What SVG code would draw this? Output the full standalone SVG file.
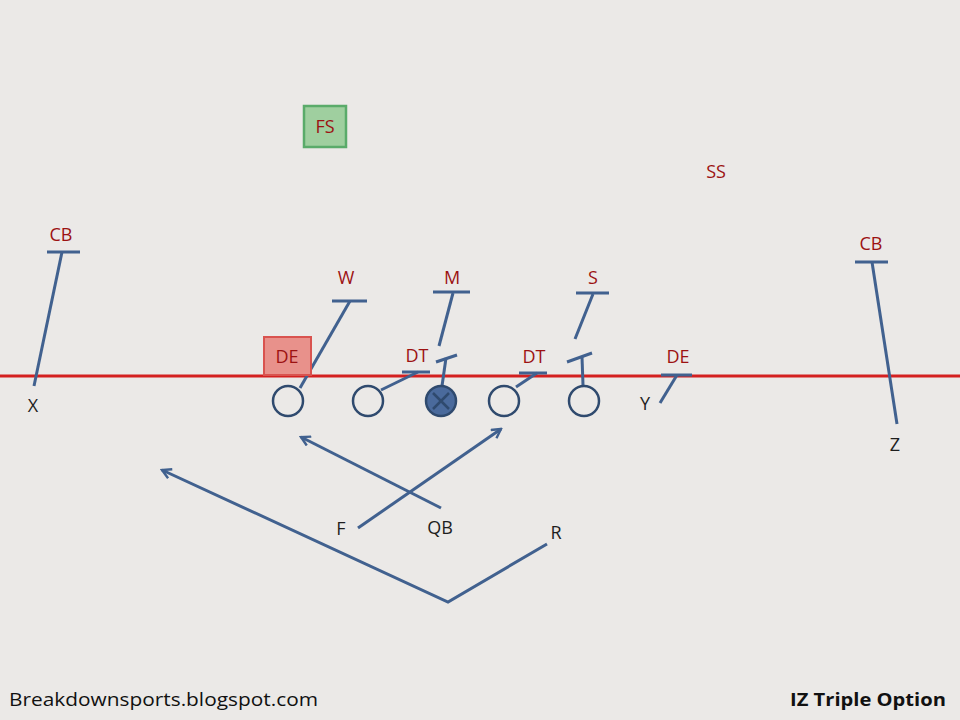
<svg xmlns="http://www.w3.org/2000/svg" width="960" height="720" viewBox="0 0 960 720">
<defs>
<marker id="arr" viewBox="0 0 12 12" refX="10" refY="6" markerWidth="12" markerHeight="12" markerUnits="userSpaceOnUse" orient="auto">
<path d="M1,1 L10,6 L1,11" fill="none" stroke="#41618f" stroke-width="2.4"/>
</marker>
</defs>
<style>
.bg{fill:#ebe9e7}
.los{stroke:#d42020;stroke-width:3}
.blk{stroke:#41618f;stroke-width:3;fill:none;stroke-linecap:butt}
.ol{fill:none;stroke:#2f4a6e;stroke-width:2.5}
.c{fill:#4a6a9c;stroke:#2f4a6e;stroke-width:2.5}
.dl{font-family:"Open Sans","Liberation Sans",sans-serif;font-size:18px;fill:#9c1212;text-anchor:middle}
.ol-t{font-family:"Open Sans","Liberation Sans",sans-serif;font-size:18px;fill:#1e1e1e;text-anchor:middle}
.foot{font-family:"Open Sans","Liberation Sans",sans-serif;font-size:17.5px;fill:#111}
</style>
<rect class="bg" x="0" y="0" width="960" height="720"/>
<line class="los" x1="0" y1="376" x2="960" y2="376"/>

<g id="connectors">
<line class="blk" x1="62" y1="252" x2="34" y2="386"/>
<line class="blk" x1="47" y1="252" x2="80" y2="252"/>
<line class="blk" x1="872" y1="262" x2="897" y2="424"/>
<line class="blk" x1="855" y1="262" x2="888" y2="262"/>
<line class="blk" x1="350" y1="301" x2="300" y2="388"/>
<line class="blk" x1="332" y1="301" x2="367" y2="301"/>
<line class="blk" x1="453" y1="293" x2="439" y2="346"/>
<line class="blk" x1="433" y1="292" x2="470" y2="292"/>
<line class="blk" x1="593" y1="294" x2="575" y2="339"/>
<line class="blk" x1="576" y1="293" x2="609" y2="293"/>
<line class="blk" x1="446" y1="358" x2="442" y2="386"/>
<line class="blk" x1="436" y1="362" x2="457" y2="355"/>
<line class="blk" x1="582" y1="357" x2="583" y2="385"/>
<line class="blk" x1="567" y1="362" x2="592" y2="353"/>
<line class="blk" x1="381" y1="390" x2="418" y2="372"/>
<line class="blk" x1="402" y1="372" x2="430" y2="372"/>
<line class="blk" x1="516" y1="387" x2="537" y2="373"/>
<line class="blk" x1="519" y1="373" x2="547" y2="373"/>
<line class="blk" x1="660" y1="403" x2="677" y2="375"/>
<line class="blk" x1="661" y1="375" x2="692" y2="375"/>
<line class="blk" x1="358" y1="528" x2="501" y2="429" marker-end="url(#arr)"/>
<line class="blk" x1="441" y1="508" x2="301" y2="437" marker-end="url(#arr)"/>
<polyline class="blk" points="547,544 448,602 162,470" marker-end="url(#arr)"/>
</g>

<g id="DE-left">
<rect x="264" y="337" width="47" height="38" fill="#e8918b" stroke="#d9534f" stroke-width="2"/>
<text class="dl" x="287" y="363">DE</text>
</g>
<g id="FS">
<rect x="304" y="106" width="42" height="41" fill="#9fcf9f" stroke="#5aab6a" stroke-width="2.5"/>
<text class="dl" x="325" y="133">FS</text>
</g>
<g id="SS"><text class="dl" x="716" y="178">SS</text></g>
<g id="CB-left"><text class="dl" x="61" y="241">CB</text></g>
<g id="CB-right"><text class="dl" x="871" y="250">CB</text></g>
<g id="W"><text class="dl" x="346" y="284">W</text></g>
<g id="M"><text class="dl" x="452" y="284">M</text></g>
<g id="S"><text class="dl" x="593" y="284">S</text></g>
<g id="DT-left"><text class="dl" x="417" y="362">DT</text></g>
<g id="DT-right"><text class="dl" x="534" y="363">DT</text></g>
<g id="DE-right"><text class="dl" x="678" y="363">DE</text></g>

<g id="LT"><circle class="ol" cx="288" cy="401" r="15"/></g>
<g id="LG"><circle class="ol" cx="368" cy="401" r="15"/></g>
<g id="C">
<circle class="c" cx="441" cy="401" r="15"/>
<path d="M433,393 L449,409 M449,393 L433,409" stroke="#2f4a6e" stroke-width="2.5"/>
</g>
<g id="RG"><circle class="ol" cx="504" cy="401" r="15"/></g>
<g id="RT"><circle class="ol" cx="584" cy="401" r="15"/></g>

<g id="X"><text class="ol-t" x="33" y="412">X</text></g>
<g id="Y"><text class="ol-t" x="645" y="410">Y</text></g>
<g id="Z"><text class="ol-t" x="895" y="451">Z</text></g>
<g id="F"><text class="ol-t" x="341" y="535">F</text></g>
<g id="QB"><text class="ol-t" x="440" y="534">QB</text></g>
<g id="R"><text class="ol-t" x="556" y="539">R</text></g>

<text class="foot" x="9" y="706" textLength="309" lengthAdjust="spacingAndGlyphs">Breakdownsports.blogspot.com</text>
<text class="foot" x="790" y="706" font-weight="bold" textLength="156" lengthAdjust="spacingAndGlyphs">IZ Triple Option</text>
</svg>
